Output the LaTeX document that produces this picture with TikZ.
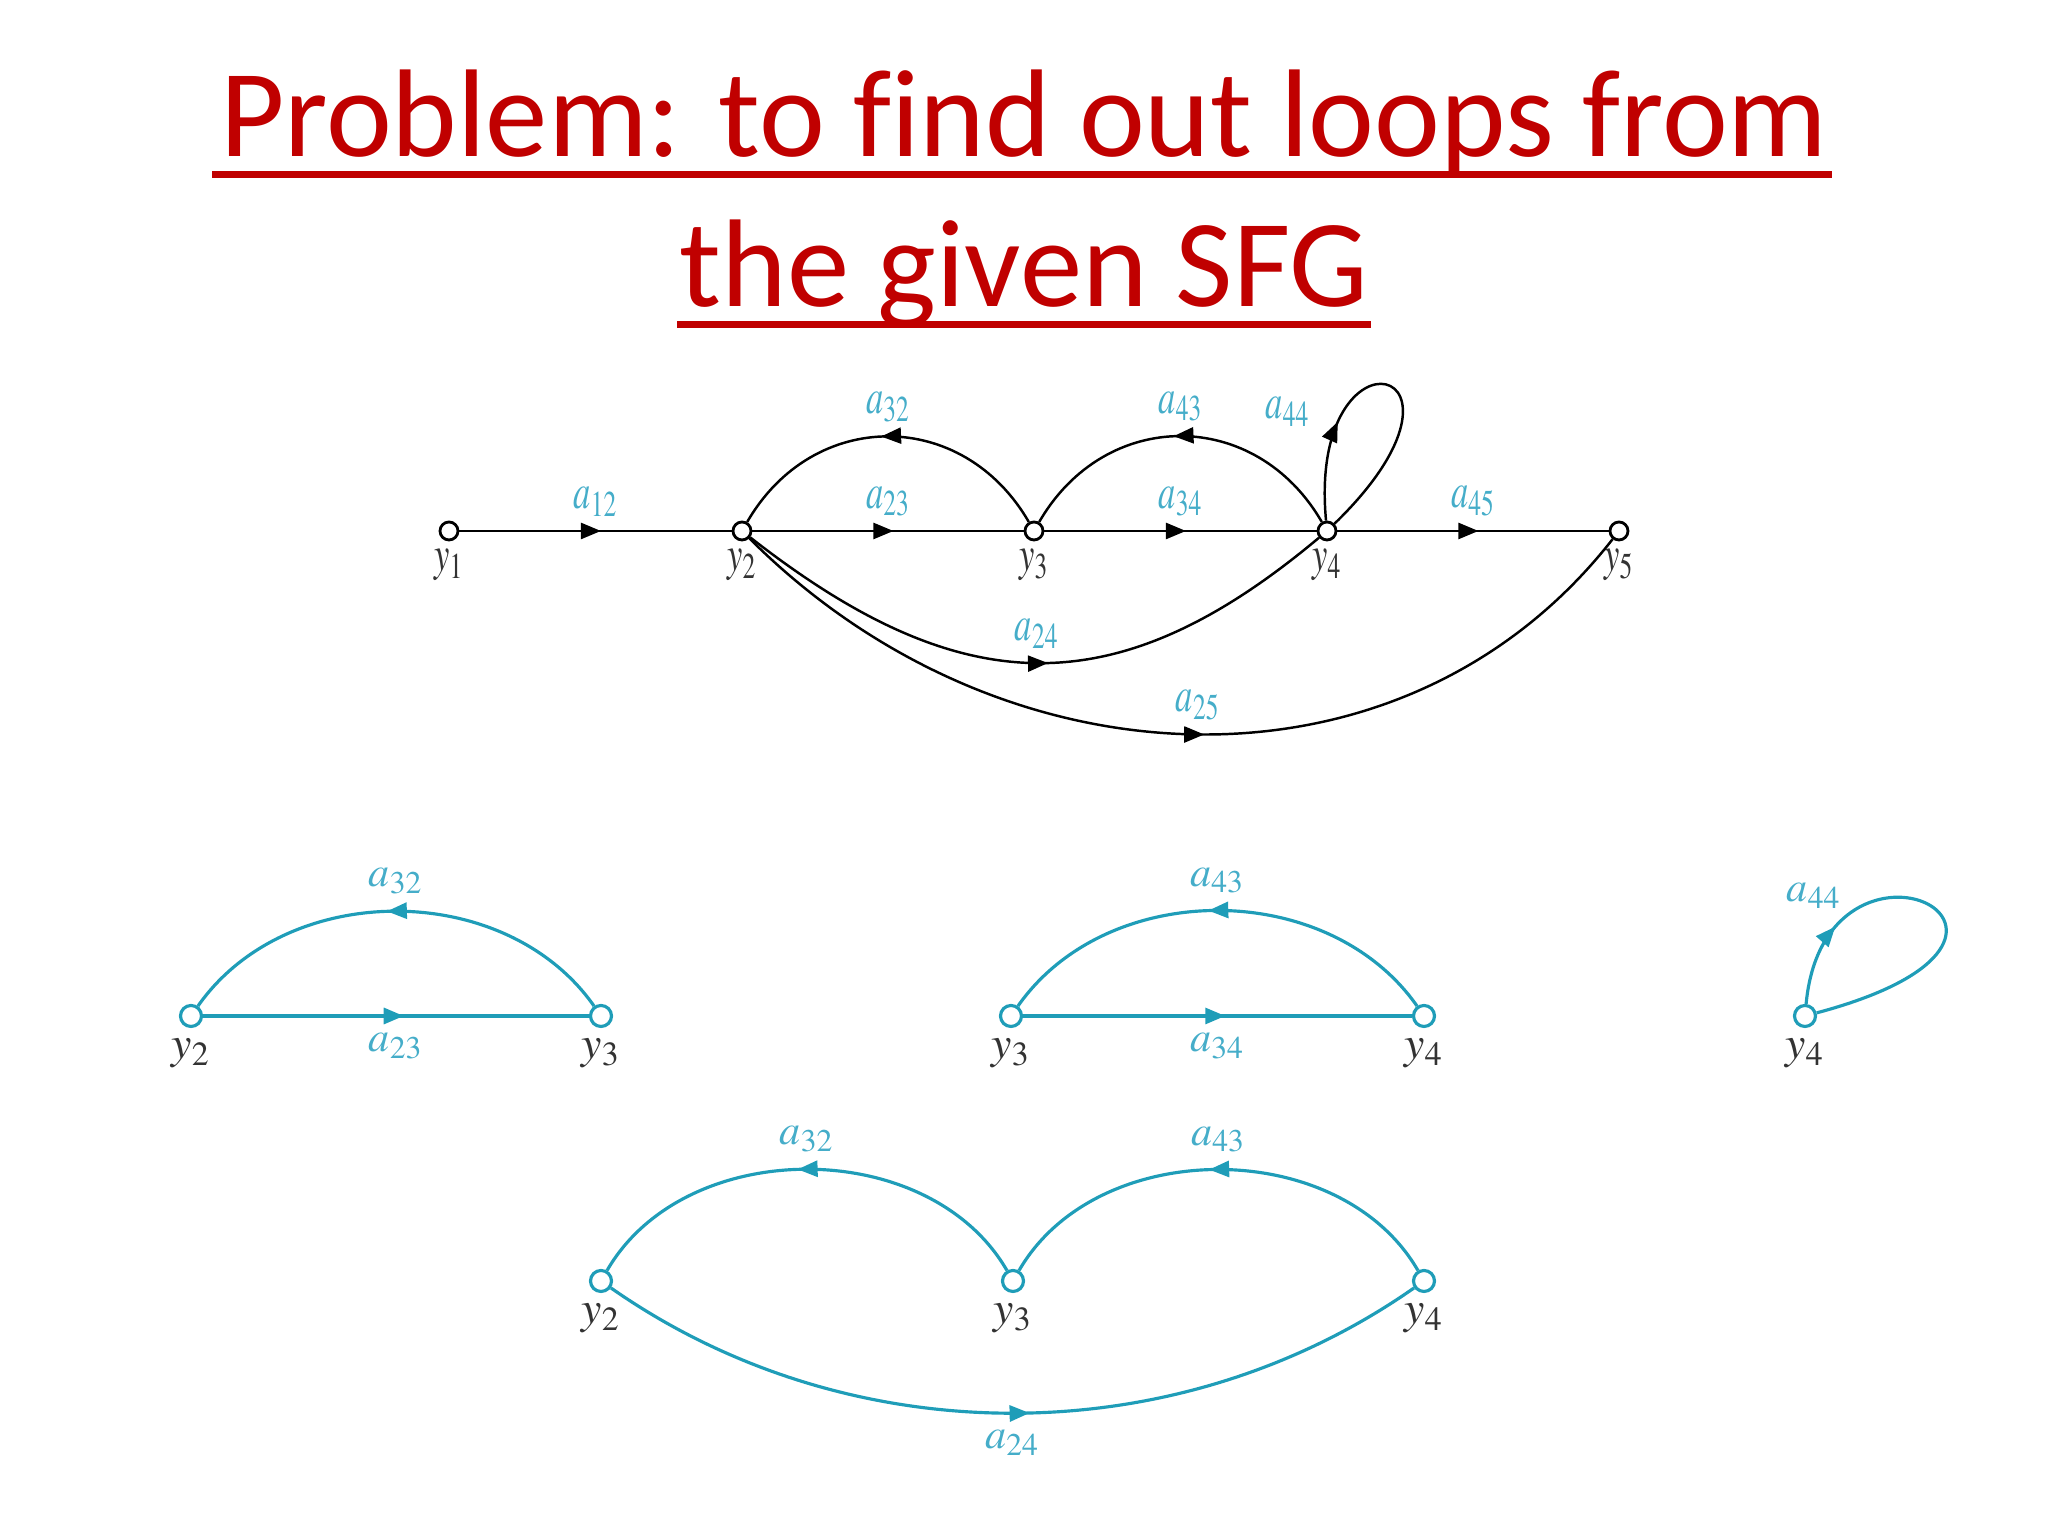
\documentclass[tikz,border=0pt]{standalone}
\usepackage{mathptmx}
\usepackage{fontspec}
\setmainfont{Liberation Serif}
\newfontfamily\titlefont[Ligatures=NoCommon]{Carlito}
\usetikzlibrary{positioning}
\usetikzlibrary{decorations.markings}
\usetikzlibrary{arrows.meta}
\definecolor{titlered}{HTML}{C00000}
\definecolor{gaincyan}{HTML}{45ADC9}
\definecolor{loopcyan}{HTML}{1F9DB8}
\definecolor{namegray}{HTML}{333333}

\begin{document}
\begin{tikzpicture}
				\tikzstyle{sfgnode}=[circle, draw=black, fill=white, line width=0.8pt, inner sep=0pt, minimum size=0.18cm]
				\tikzstyle{loopnode}=[circle, draw=loopcyan, fill=white, line width=0.9pt, inner sep=0pt, minimum size=0.21cm]
				\tikzstyle{toplabel}=[inner sep=1pt, xscale=0.7, font=\fontsize{14}{14}\selectfont]
				\tikzstyle{topname}=[toplabel, text=namegray]
				\tikzstyle{topgain}=[toplabel, text=gaincyan]
				\tikzstyle{loopname}=[inner sep=1pt, text=namegray, font=\fontsize{13}{13}\selectfont]
				\tikzstyle{loopgain}=[inner sep=1pt, text=gaincyan, font=\fontsize{12}{12}\selectfont]
				\tikzstyle{midarrow}=[postaction={decorate, decoration={markings, mark=at position 0.52 with {\arrow{Triangle[length=0.2cm, width=0.16cm]}}}}]
				\tikzstyle{selfarrow}=[postaction={decorate, decoration={markings, mark=at position 0.3 with {\arrow{Triangle[length=0.2cm, width=0.16cm]}}}}]
				\tikzstyle{cselfarrow}=[postaction={decorate, decoration={markings, mark=at position 0.22 with {\arrow{Triangle[length=0.2cm, width=0.16cm]}}}}]
				\tikzstyle{branch}=[draw=black, line width=0.7pt]
				\tikzstyle{loopbranch}=[draw=loopcyan, line width=0.9pt]
				\tikzstyle{titleline}=[inner sep=0pt, anchor=base, text=titlered, font=\titlefont\fontsize{35.5}{42}\selectfont]
				\tikzstyle{underline}=[draw=titlered, line width=2pt]
				
				\useasboundingbox (0,0) rectangle (20.48,15.36);
				
				% title
				\node[titleline] (title1) at (10.24,13.79) {Problem: to find out loops from};
				\node[titleline] (title2) at (10.24,12.29) {the given SFG};
				\draw[underline] ([xshift=-0.07cm, yshift=-0.18cm]title1.base west) -- ([xshift=0.03cm, yshift=-0.18cm]title1.base east);
				\draw[underline] ([xshift=-0.02cm, yshift=-0.18cm]title2.base west) -- ([xshift=0.02cm, yshift=-0.18cm]title2.base east);
				
				% the given SFG
				\node[sfgnode] (y1) at (4.49,10.05) {};
				\node[sfgnode] (y2) at (7.42,10.05) {};
				\node[sfgnode] (y3) at (10.34,10.05) {};
				\node[sfgnode] (y4) at (13.27,10.05) {};
				\node[sfgnode] (y5) at (16.19,10.05) {};
				
				\node[topname, below=0.04cm of y1] (n1) {$y_1$};
				\node[topname, below=0.04cm of y2] (n2) {$y_2$};
				\node[topname, below=0.04cm of y3] (n3) {$y_3$};
				\node[topname, below=0.04cm of y4] (n4) {$y_4$};
				\node[topname, below=0.04cm of y5] (n5) {$y_5$};
				
				\draw[branch, midarrow] (y1) -- node[topgain, above=0.1cm] (g12) {$a_{12}$} (y2);
				\draw[branch, midarrow] (y2) -- node[topgain, above=0.1cm] (g23) {$a_{23}$} (y3);
				\draw[branch, midarrow] (y3) -- node[topgain, above=0.1cm] (g34) {$a_{34}$} (y4);
				\draw[branch, midarrow] (y4) -- node[topgain, above=0.1cm] (g45) {$a_{45}$} (y5);
				\draw[branch, midarrow] (y3) to[out=120, in=60, looseness=1.2] node[topgain, above=0.1cm] (g32) {$a_{32}$} (y2);
				\draw[branch, midarrow] (y4) to[out=120, in=60, looseness=1.2] node[topgain, above=0.1cm] (g43) {$a_{43}$} (y3);
				\draw[branch, selfarrow] (y4) .. controls +(-0.2,2.15) and +(1.75,1.7) .. node[topgain, pos=0.25, left=0.3cm] (g44) {$a_{44}$} (y4);
				\draw[branch, midarrow] (y2) to[out=-38, in=-140, looseness=1.2] node[topgain, above=0.1cm] (g24) {$a_{24}$} (y4);
				\draw[branch, midarrow] (y2) .. controls +(-45:3.7) and +(-128:3.5) .. node[topgain, above=0.1cm] (g25) {$a_{25}$} (y5);
				
				% loop y2-y3
				\node[loopnode] (ly2a) at (1.91,5.20) {};
				\node[loopnode] (ly3a) at (6.01,5.20) {};
				\node[loopname, below=0.06cm of ly2a] (ln2a) {$y_2$};
				\node[loopname, below=0.06cm of ly3a] (ln3a) {$y_3$};
				\draw[loopbranch, midarrow] (ly3a) to[out=125, in=55, looseness=1.0] node[loopgain, above=0.12cm] (lg32a) {$a_{32}$} (ly2a);
				\draw[loopbranch, midarrow] (ly2a) -- node[loopgain, below=0.12cm] (lg23a) {$a_{23}$} (ly3a);
				
				% loop y3-y4
				\node[loopnode] (ly3b) at (10.11,5.20) {};
				\node[loopnode] (ly4b) at (14.24,5.20) {};
				\node[loopname, below=0.06cm of ly3b] (ln3b) {$y_3$};
				\node[loopname, below=0.06cm of ly4b] (ln4b) {$y_4$};
				\draw[loopbranch, midarrow] (ly4b) to[out=125, in=55, looseness=1.0] node[loopgain, above=0.12cm] (lg43b) {$a_{43}$} (ly3b);
				\draw[loopbranch, midarrow] (ly3b) -- node[loopgain, below=0.12cm] (lg34b) {$a_{34}$} (ly4b);
				
				% self loop y4
				\node[loopnode] (ly4c) at (18.05,5.20) {};
				\node[loopname, below=0.06cm of ly4c] (ln4c) {$y_4$};
				\draw[loopbranch, cselfarrow] (ly4c) .. controls +(0.2,2.15) and +(3.0,0.8) .. node[loopgain, pos=0.22, above left=0.02cm] (lg44c) {$a_{44}$} (ly4c);
				
				% loop y2-y3-y4
				\node[loopnode] (ly2d) at (6.01,2.55) {};
				\node[loopnode] (ly3d) at (10.13,2.55) {};
				\node[loopnode] (ly4d) at (14.24,2.55) {};
				\node[loopname, below=0.06cm of ly2d] (ln2d) {$y_2$};
				\node[loopname, below=0.06cm of ly3d] (ln3d) {$y_3$};
				\node[loopname, below=0.06cm of ly4d] (ln4d) {$y_4$};
				\draw[loopbranch, midarrow] (ly3d) to[out=120, in=60, looseness=1.0] node[loopgain, above=0.12cm] (lg32d) {$a_{32}$} (ly2d);
				\draw[loopbranch, midarrow] (ly4d) to[out=120, in=60, looseness=1.0] node[loopgain, above=0.12cm] (lg43d) {$a_{43}$} (ly3d);
				\draw[loopbranch, midarrow] (ly2d) to[out=-35, in=-145, looseness=0.93] node[loopgain, below=0.12cm] (lg24d) {$a_{24}$} (ly4d);
				
				\end{tikzpicture}
\end{document}
